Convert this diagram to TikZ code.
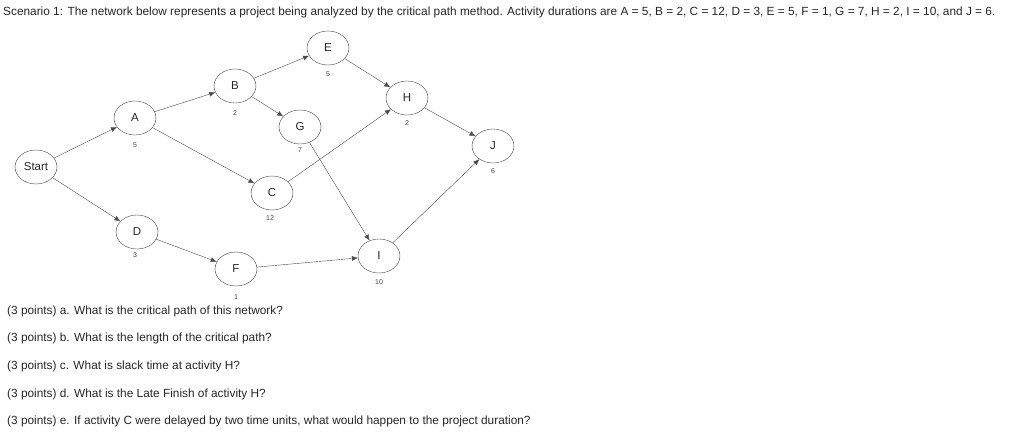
\documentclass[tikz,border=0pt]{standalone}
\usepackage{fontspec}
\setmainfont{Liberation Sans}
\usetikzlibrary{arrows.meta,shapes.geometric}
\begin{document}
\begin{tikzpicture}[x=1pt,y=-1pt,
 act/.style={draw=black!75,ellipse,minimum width=42pt,minimum height=34pt,inner sep=0pt,font=\fontsize{11.5}{13}\selectfont,text=black!85},
 dur/.style={font=\fontsize{7}{8}\selectfont,text=black!75},
 txt/.style={anchor=west,inner sep=0pt,font=\fontsize{11.85}{14}\selectfont,text=black!85},
 arr/.style={draw=black!70,-{Latex[length=6pt,width=5pt]}}]
\useasboundingbox (0,0) rectangle (1024,436);
\node[txt] (title) at (3,12) {Scenario 1: The network below represents a project being analyzed by the critical path method. Activity durations are A = 5, B = 2, C = 12, D = 3, E = 5, F = 1, G = 7, H = 2, I = 10, and J = 6.};
\node[act,minimum width=42pt] (S) at (36,167) {Start};
\node[act] (A) at (135,118) {A};
\node[act] (B) at (235,86) {B};
\node[act] (E) at (328,48) {E};
\node[act] (G) at (300,127) {G};
\node[act] (H) at (407,98) {H};
\node[act] (J) at (493,146) {J};
\node[act] (C) at (272,193) {C};
\node[act] (D) at (137,232) {D};
\node[act] (F) at (236,269) {F};
\node[act] (I) at (379,256) {I};
\node[dur] (dA) at (135,145) {5};
\node[dur] (dB) at (235,113) {2};
\node[dur] (dE) at (328,74) {5};
\node[dur] (dG) at (300,150) {7};
\node[dur] (dH) at (407,123) {2};
\node[dur] (dJ) at (493,171) {6};
\node[dur] (dC) at (270,218) {12};
\node[dur] (dD) at (135,255) {3};
\node[dur] (dF) at (236,297) {1};
\node[dur] (dI) at (379,282) {10};
\draw[arr] (S) -- (A); \draw[arr] (S) -- (D);
\draw[arr] (A) -- (B); \draw[arr] (A) -- (C);
\draw[arr] (B) -- (E); \draw[arr] (B) -- (G);
\draw[arr] (E) -- (H); \draw[arr] (C) -- (H);
\draw[arr] (G) -- (I); \draw[arr] (H) -- (J);
\draw[arr] (D) -- (F); \draw[arr] (F) -- (I);
\draw[arr] (I) -- (J);
\node[txt] (qa) at (7,311) {(3 points) a. What is the critical path of this network?};
\node[txt] (qb) at (7,338) {(3 points) b. What is the length of the critical path?};
\node[txt] (qc) at (7,366) {(3 points) c. What is slack time at activity H?};
\node[txt] (qd) at (7,394) {(3 points) d. What is the Late Finish of activity H?};
\node[txt] (qe) at (7,421) {(3 points) e. If activity C were delayed by two time units, what would happen to the project duration?};
\end{tikzpicture}
\end{document}
